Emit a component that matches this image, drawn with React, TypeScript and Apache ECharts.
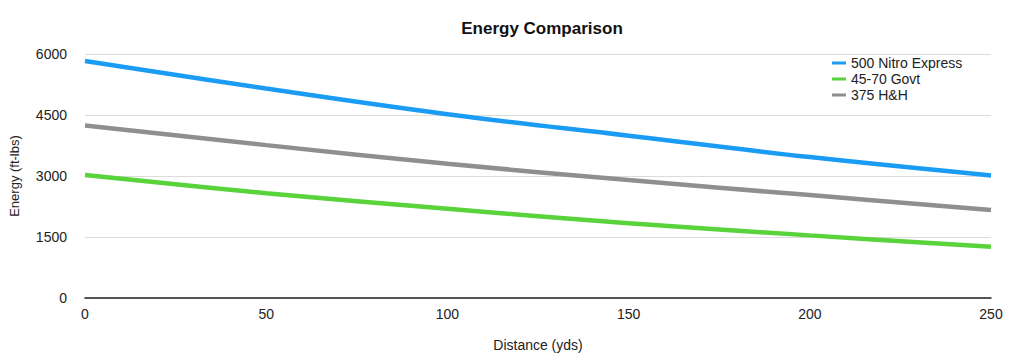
import React, { useEffect, useRef } from "react";
import * as echarts from "echarts";

const distances = [0, 50, 100, 150, 200, 250];
const nitro500 = [5830, 5150, 4520, 3990, 3465, 3015];
const govt4570 = [3022, 2575, 2195, 1840, 1540, 1260];
const hh375 = [4243, 3759, 3300, 2899, 2530, 2162];
const yTicks = [0, 1500, 3000, 4500, 6000];

const FONT = "Liberation Sans, Arial, Helvetica, sans-serif";

export default function App() {
  const ref = useRef<HTMLDivElement>(null);
  useEffect(() => {
    if (!ref.current) return;
    const chart = echarts.init(ref.current, undefined, { renderer: "svg" });
    const mk = (arr: number[]) => distances.map((d, i) => [d, arr[i]]);
    const lineSeries = (name: string, arr: number[], color: string) => ({
      name,
      type: "line",
      smooth: 0.4,
      showSymbol: false,
      data: mk(arr),
      lineStyle: { width: 4.5, color },
      itemStyle: { color },
    });
    chart.setOption({
      animation: false,
      backgroundColor: "#ffffff",
      title: {
        text: "Energy Comparison",
        left: 537,
        textAlign: "center",
        top: 15,
        textStyle: { fontFamily: FONT, fontSize: 17, fontWeight: "bold", color: "#111" },
      },
      legend: {
        orient: "vertical",
        left: 827,
        top: 51,
        itemGap: 2,
        itemWidth: 14,
        itemHeight: 3,
        icon: "rect",
        textStyle: { fontFamily: FONT, fontSize: 14, color: "#222" },
        data: ["500 Nitro Express", "45-70 Govt", "375 H&H"],
      },
      grid: { left: 84, right: 33, top: 54, bottom: 64, containLabel: false },
      xAxis: {
        type: "value",
        min: 0,
        max: 250,
        interval: 50,
        name: "Distance (yds)",
        nameLocation: "middle",
        nameGap: 40,
        nameTextStyle: { fontFamily: FONT, fontSize: 14, color: "#222" },
        axisLine: { show: true, lineStyle: { color: "#222", width: 1.5 } },
        axisTick: { show: false },
        splitLine: { show: false },
        axisLabel: { fontFamily: FONT, fontSize: 14, color: "#222", margin: 9 },
      },
      yAxis: {
        type: "value",
        min: yTicks[0],
        max: yTicks[yTicks.length - 1],
        interval: 1500,
        name: "Energy (ft-lbs)",
        nameLocation: "middle",
        nameGap: 64,
        nameTextStyle: { fontFamily: FONT, fontSize: 13, color: "#222" },
        axisLine: { show: false },
        axisTick: { show: false },
        splitLine: { show: true, lineStyle: { color: "#dcdcdc", width: 1 } },
        axisLabel: {
          fontFamily: FONT,
          fontSize: 14,
          color: "#222",
          margin: 18,
          formatter: (v: number) => String(v),
        },
      },
      series: [
        lineSeries("500 Nitro Express", nitro500, "#1a9cf5"),
        lineSeries("45-70 Govt", govt4570, "#58d33a"),
        lineSeries("375 H&H", hh375, "#8f8f8f"),
      ],
    });
    return () => chart.dispose();
  }, []);
  return (
    <div
      ref={ref}
      style={{ position: "fixed", left: 0, top: 0, width: 1024, height: 362, background: "#fff" }}
    />
  );
}
